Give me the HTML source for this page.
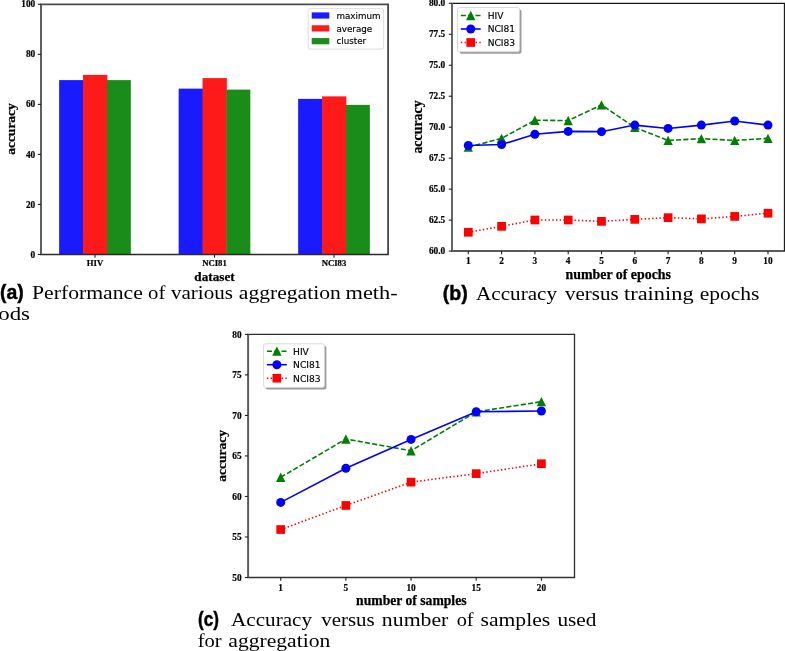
<!DOCTYPE html>
<html><head><meta charset="utf-8"><title>Figure</title>
<style>
html,body{margin:0;padding:0;background:#fff;}
body{width:785px;height:651px;overflow:hidden;}
svg{display:block;}
.tk{font-family:"Liberation Serif", serif;font-weight:bold;font-size:9.3px;fill:#000;stroke:#000;stroke-width:0.2px;}
.lab{font-family:"Liberation Serif", serif;font-weight:bold;font-size:13.5px;fill:#000;stroke:#000;stroke-width:0.25px;}
.lg{font-family:"DejaVu Sans", "Liberation Sans", sans-serif;font-size:9.1px;fill:#000;stroke:#000;stroke-width:0.15px;}
.cp{font-family:"Liberation Serif", serif;font-size:18.0px;fill:#000;}
.cb{font-family:"Liberation Sans", sans-serif;font-weight:bold;font-size:19.5px;fill:#000;stroke:#000;stroke-width:0.45px;}
</style></head>
<body>
<svg width="785" height="651" viewBox="0 0 785 651">
<rect width="785" height="651" fill="#fff"/>
<rect x="59.15" y="80.11" width="24.3" height="174.39" fill="#1a1aff"/>
<rect x="83.05" y="74.86" width="24.3" height="179.64" fill="#ff1a1a"/>
<rect x="106.95" y="80.11" width="23.9" height="174.39" fill="#1a8c1a"/>
<rect x="178.65" y="88.62" width="24.3" height="165.88" fill="#1a1aff"/>
<rect x="202.55" y="78.11" width="24.3" height="176.39" fill="#ff1a1a"/>
<rect x="226.45" y="89.62" width="23.9" height="164.88" fill="#1a8c1a"/>
<rect x="298.15" y="98.88" width="24.3" height="155.62" fill="#1a1aff"/>
<rect x="322.05" y="96.37" width="24.3" height="158.13" fill="#ff1a1a"/>
<rect x="345.95" y="104.88" width="23.9" height="149.62" fill="#1a8c1a"/>
<rect x="308.2" y="8.4" width="75.4" height="40.7" rx="2" fill="#fff" stroke="#dadada" stroke-width="0.9"/>
<rect x="311.7" y="12.4" width="17.6" height="6.2" fill="#1a1aff"/>
<text x="336.4" y="18.7" class="lg" style="font-size:8.75px">maximum</text>
<rect x="311.7" y="25.25" width="17.6" height="6.2" fill="#ff1a1a"/>
<text x="336.4" y="31.55" class="lg" style="font-size:8.75px">average</text>
<rect x="311.7" y="38.1" width="17.6" height="6.2" fill="#1a8c1a"/>
<text x="336.4" y="44.4" class="lg" style="font-size:8.75px">cluster</text>
<line x1="40.2" y1="4.3" x2="388.8" y2="4.3" stroke="#4d4d4d" stroke-width="1.7"/>
<line x1="40.2" y1="254.5" x2="388.8" y2="254.5" stroke="#2a2a2a" stroke-width="1.3"/>
<line x1="41" y1="4.3" x2="41" y2="254.5" stroke="#5e5e5e" stroke-width="2.0"/>
<line x1="388.1" y1="4.3" x2="388.1" y2="254.5" stroke="#3a3a3a" stroke-width="1.7"/>
<line x1="37.8" y1="254.5" x2="41" y2="254.5" stroke="#222" stroke-width="1.1"/>
<text x="35.2" y="257.6" text-anchor="end" class="tk">0</text>
<line x1="37.8" y1="204.46" x2="41" y2="204.46" stroke="#222" stroke-width="1.1"/>
<text x="35.2" y="207.56" text-anchor="end" class="tk">20</text>
<line x1="37.8" y1="154.42" x2="41" y2="154.42" stroke="#222" stroke-width="1.1"/>
<text x="35.2" y="157.52" text-anchor="end" class="tk">40</text>
<line x1="37.8" y1="104.38" x2="41" y2="104.38" stroke="#222" stroke-width="1.1"/>
<text x="35.2" y="107.48" text-anchor="end" class="tk">60</text>
<line x1="37.8" y1="54.34" x2="41" y2="54.34" stroke="#222" stroke-width="1.1"/>
<text x="35.2" y="57.44" text-anchor="end" class="tk">80</text>
<line x1="37.8" y1="4.3" x2="41" y2="4.3" stroke="#222" stroke-width="1.1"/>
<text x="35.2" y="7.4" text-anchor="end" class="tk">100</text>
<line x1="95" y1="254.5" x2="95" y2="257.7" stroke="#222" stroke-width="1.1"/>
<text x="95" y="266.3" text-anchor="middle" class="tk" style="font-size:8.7px">HIV</text>
<line x1="214.5" y1="254.5" x2="214.5" y2="257.7" stroke="#222" stroke-width="1.1"/>
<text x="214.5" y="266.3" text-anchor="middle" class="tk" style="font-size:8.7px">NCI81</text>
<line x1="334" y1="254.5" x2="334" y2="257.7" stroke="#222" stroke-width="1.1"/>
<text x="334" y="266.3" text-anchor="middle" class="tk" style="font-size:8.7px">NCI83</text>
<text transform="translate(15.3,129) rotate(-90)" text-anchor="middle" class="lab">accuracy</text>
<text x="214.5" y="280.5" text-anchor="middle" class="lab" style="font-size:13.2px">dataset</text>
<path d="M468.3 147.15L501.6 138.35L534.9 120.26L568.2 120.51L601.5 104.9L634.8 127.45L668.1 140.46L701.4 138.6L734.7 140.46L768 138.35" fill="none" stroke="#008000" stroke-width="1.6" stroke-dasharray="5.1 2.2"/>
<path d="M468.3 142.5L472.95 151.8L463.65 151.8Z" fill="#008000"/>
<path d="M501.6 133.7L506.25 143L496.95 143Z" fill="#008000"/>
<path d="M534.9 115.61L539.55 124.91L530.25 124.91Z" fill="#008000"/>
<path d="M568.2 115.86L572.85 125.16L563.55 125.16Z" fill="#008000"/>
<path d="M601.5 100.25L606.15 109.55L596.85 109.55Z" fill="#008000"/>
<path d="M634.8 122.8L639.45 132.1L630.15 132.1Z" fill="#008000"/>
<path d="M668.1 135.81L672.75 145.11L663.45 145.11Z" fill="#008000"/>
<path d="M701.4 133.95L706.05 143.25L696.75 143.25Z" fill="#008000"/>
<path d="M734.7 135.81L739.35 145.11L730.05 145.11Z" fill="#008000"/>
<path d="M768 133.7L772.65 143L763.35 143Z" fill="#008000"/>
<path d="M468.3 145.54L501.6 144.55L534.9 134.26L568.2 131.41L601.5 131.66L634.8 125.09L668.1 128.44L701.4 125.09L734.7 121.01L768 125.09" fill="none" stroke="#0000ff" stroke-width="1.6" />
<circle cx="468.3" cy="145.54" r="4.5" fill="#0000ff"/>
<circle cx="501.6" cy="144.55" r="4.5" fill="#0000ff"/>
<circle cx="534.9" cy="134.26" r="4.5" fill="#0000ff"/>
<circle cx="568.2" cy="131.41" r="4.5" fill="#0000ff"/>
<circle cx="601.5" cy="131.66" r="4.5" fill="#0000ff"/>
<circle cx="634.8" cy="125.09" r="4.5" fill="#0000ff"/>
<circle cx="668.1" cy="128.44" r="4.5" fill="#0000ff"/>
<circle cx="701.4" cy="125.09" r="4.5" fill="#0000ff"/>
<circle cx="734.7" cy="121.01" r="4.5" fill="#0000ff"/>
<circle cx="768" cy="125.09" r="4.5" fill="#0000ff"/>
<path d="M468.3 232.27L501.6 226.32L534.9 220L568.2 220L601.5 221.36L634.8 219.38L668.1 217.65L701.4 218.89L734.7 216.41L768 213.19" fill="none" stroke="#ff0000" stroke-width="1.6" stroke-dasharray="1.4 2.3"/>
<rect x="463.95" y="227.92" width="8.7" height="8.7" fill="#ff0000"/>
<rect x="497.25" y="221.97" width="8.7" height="8.7" fill="#ff0000"/>
<rect x="530.55" y="215.65" width="8.7" height="8.7" fill="#ff0000"/>
<rect x="563.85" y="215.65" width="8.7" height="8.7" fill="#ff0000"/>
<rect x="597.15" y="217.01" width="8.7" height="8.7" fill="#ff0000"/>
<rect x="630.45" y="215.03" width="8.7" height="8.7" fill="#ff0000"/>
<rect x="663.75" y="213.3" width="8.7" height="8.7" fill="#ff0000"/>
<rect x="697.05" y="214.54" width="8.7" height="8.7" fill="#ff0000"/>
<rect x="730.35" y="212.06" width="8.7" height="8.7" fill="#ff0000"/>
<rect x="763.65" y="208.84" width="8.7" height="8.7" fill="#ff0000"/>
<rect x="459.5" y="9.5" width="62" height="44.2" rx="2" fill="#9c9c9c"/>
<rect x="457.5" y="7.5" width="62" height="44.2" rx="2" fill="#fff" stroke="#d6d6d6" stroke-width="0.9"/>
<line x1="460.8" y1="15.5" x2="480.7" y2="15.5" stroke="#008000" stroke-width="1.6" stroke-dasharray="5.1 2.2"/>
<path d="M470.75 10.85L475.4 20.15L466.1 20.15Z" fill="#008000"/>
<text x="487.7" y="18.8" class="lg">HIV</text>
<line x1="460.8" y1="29" x2="480.7" y2="29" stroke="#0000ff" stroke-width="1.6" />
<circle cx="470.75" cy="29" r="4.5" fill="#0000ff"/>
<text x="487.7" y="32.3" class="lg">NCI81</text>
<line x1="460.8" y1="42.5" x2="480.7" y2="42.5" stroke="#ff0000" stroke-width="1.6" stroke-dasharray="1.4 2.3"/>
<rect x="466.4" y="38.15" width="8.7" height="8.7" fill="#ff0000"/>
<text x="487.7" y="45.8" class="lg">NCI83</text>
<line x1="451.2" y1="3.3" x2="785.2" y2="3.3" stroke="#151515" stroke-width="1.3"/>
<line x1="451.2" y1="251.1" x2="785.2" y2="251.1" stroke="#5a5a5a" stroke-width="2.0"/>
<line x1="452" y1="3.3" x2="452" y2="251.1" stroke="#666" stroke-width="2.0"/>
<line x1="784.5" y1="3.3" x2="784.5" y2="251.1" stroke="#1e1e1e" stroke-width="1.3"/>
<line x1="448.8" y1="251.1" x2="452" y2="251.1" stroke="#222" stroke-width="1.1"/>
<text x="445.2" y="254.2" text-anchor="end" class="tk">60.0</text>
<line x1="448.8" y1="220.12" x2="452" y2="220.12" stroke="#222" stroke-width="1.1"/>
<text x="445.2" y="223.22" text-anchor="end" class="tk">62.5</text>
<line x1="448.8" y1="189.15" x2="452" y2="189.15" stroke="#222" stroke-width="1.1"/>
<text x="445.2" y="192.25" text-anchor="end" class="tk">65.0</text>
<line x1="448.8" y1="158.18" x2="452" y2="158.18" stroke="#222" stroke-width="1.1"/>
<text x="445.2" y="161.28" text-anchor="end" class="tk">67.5</text>
<line x1="448.8" y1="127.2" x2="452" y2="127.2" stroke="#222" stroke-width="1.1"/>
<text x="445.2" y="130.3" text-anchor="end" class="tk">70.0</text>
<line x1="448.8" y1="96.22" x2="452" y2="96.22" stroke="#222" stroke-width="1.1"/>
<text x="445.2" y="99.32" text-anchor="end" class="tk">72.5</text>
<line x1="448.8" y1="65.25" x2="452" y2="65.25" stroke="#222" stroke-width="1.1"/>
<text x="445.2" y="68.35" text-anchor="end" class="tk">75.0</text>
<line x1="448.8" y1="34.28" x2="452" y2="34.28" stroke="#222" stroke-width="1.1"/>
<text x="445.2" y="37.38" text-anchor="end" class="tk">77.5</text>
<line x1="448.8" y1="3.3" x2="452" y2="3.3" stroke="#222" stroke-width="1.1"/>
<text x="445.2" y="6.4" text-anchor="end" class="tk">80.0</text>
<line x1="468.3" y1="251.1" x2="468.3" y2="254.3" stroke="#222" stroke-width="1.1"/>
<text x="468.3" y="263.9" text-anchor="middle" class="tk">1</text>
<line x1="501.6" y1="251.1" x2="501.6" y2="254.3" stroke="#222" stroke-width="1.1"/>
<text x="501.6" y="263.9" text-anchor="middle" class="tk">2</text>
<line x1="534.9" y1="251.1" x2="534.9" y2="254.3" stroke="#222" stroke-width="1.1"/>
<text x="534.9" y="263.9" text-anchor="middle" class="tk">3</text>
<line x1="568.2" y1="251.1" x2="568.2" y2="254.3" stroke="#222" stroke-width="1.1"/>
<text x="568.2" y="263.9" text-anchor="middle" class="tk">4</text>
<line x1="601.5" y1="251.1" x2="601.5" y2="254.3" stroke="#222" stroke-width="1.1"/>
<text x="601.5" y="263.9" text-anchor="middle" class="tk">5</text>
<line x1="634.8" y1="251.1" x2="634.8" y2="254.3" stroke="#222" stroke-width="1.1"/>
<text x="634.8" y="263.9" text-anchor="middle" class="tk">6</text>
<line x1="668.1" y1="251.1" x2="668.1" y2="254.3" stroke="#222" stroke-width="1.1"/>
<text x="668.1" y="263.9" text-anchor="middle" class="tk">7</text>
<line x1="701.4" y1="251.1" x2="701.4" y2="254.3" stroke="#222" stroke-width="1.1"/>
<text x="701.4" y="263.9" text-anchor="middle" class="tk">8</text>
<line x1="734.7" y1="251.1" x2="734.7" y2="254.3" stroke="#222" stroke-width="1.1"/>
<text x="734.7" y="263.9" text-anchor="middle" class="tk">9</text>
<line x1="768" y1="251.1" x2="768" y2="254.3" stroke="#222" stroke-width="1.1"/>
<text x="768" y="263.9" text-anchor="middle" class="tk">10</text>
<text transform="translate(422.2,127) rotate(-90)" text-anchor="middle" class="lab" style="font-size:13.9px">accuracy</text>
<text x="618.25" y="278.5" text-anchor="middle" class="lab" style="font-size:13.9px">number of epochs</text>
<path d="M280.7 477.26L345.88 439.01L411.05 450.76L476.22 411.79L541.4 401.66" fill="none" stroke="#008000" stroke-width="1.6" stroke-dasharray="5.1 2.2"/>
<path d="M280.7 472.61L285.35 481.91L276.05 481.91Z" fill="#008000"/>
<path d="M345.88 434.36L350.52 443.66L341.23 443.66Z" fill="#008000"/>
<path d="M411.05 446.11L415.7 455.41L406.4 455.41Z" fill="#008000"/>
<path d="M476.22 407.14L480.87 416.44L471.57 416.44Z" fill="#008000"/>
<path d="M541.4 397.01L546.05 406.31L536.75 406.31Z" fill="#008000"/>
<path d="M280.7 502.38L345.88 468.27L411.05 439.42L476.22 411.79L541.4 410.98" fill="none" stroke="#0000ff" stroke-width="1.6" />
<circle cx="280.7" cy="502.38" r="4.5" fill="#0000ff"/>
<circle cx="345.88" cy="468.27" r="4.5" fill="#0000ff"/>
<circle cx="411.05" cy="439.42" r="4.5" fill="#0000ff"/>
<circle cx="476.22" cy="411.79" r="4.5" fill="#0000ff"/>
<circle cx="541.4" cy="410.98" r="4.5" fill="#0000ff"/>
<path d="M280.7 529.53L345.88 505.46L411.05 482.12L476.22 473.62L541.4 463.73" fill="none" stroke="#ff0000" stroke-width="1.6" stroke-dasharray="1.4 2.3"/>
<rect x="276.35" y="525.18" width="8.7" height="8.7" fill="#ff0000"/>
<rect x="341.52" y="501.11" width="8.7" height="8.7" fill="#ff0000"/>
<rect x="406.7" y="477.77" width="8.7" height="8.7" fill="#ff0000"/>
<rect x="471.87" y="469.27" width="8.7" height="8.7" fill="#ff0000"/>
<rect x="537.05" y="459.38" width="8.7" height="8.7" fill="#ff0000"/>
<rect x="265.6" y="345.8" width="60.8" height="43.6" rx="2" fill="#9c9c9c"/>
<rect x="263.6" y="343.8" width="60.8" height="43.6" rx="2" fill="#fff" stroke="#d6d6d6" stroke-width="0.9"/>
<line x1="266.9" y1="351.2" x2="286.8" y2="351.2" stroke="#008000" stroke-width="1.6" stroke-dasharray="5.1 2.2"/>
<path d="M276.85 346.55L281.5 355.85L272.2 355.85Z" fill="#008000"/>
<text x="293.1" y="354.5" class="lg">HIV</text>
<line x1="266.9" y1="364.7" x2="286.8" y2="364.7" stroke="#0000ff" stroke-width="1.6" />
<circle cx="276.85" cy="364.7" r="4.5" fill="#0000ff"/>
<text x="293.1" y="368" class="lg">NCI81</text>
<line x1="266.9" y1="378.2" x2="286.8" y2="378.2" stroke="#ff0000" stroke-width="1.6" stroke-dasharray="1.4 2.3"/>
<rect x="272.5" y="373.85" width="8.7" height="8.7" fill="#ff0000"/>
<text x="293.1" y="381.5" class="lg">NCI83</text>
<line x1="247.3" y1="334.4" x2="575.2" y2="334.4" stroke="#2a2a2a" stroke-width="1.3"/>
<line x1="247.3" y1="577.5" x2="575.2" y2="577.5" stroke="#333" stroke-width="1.3"/>
<line x1="248.1" y1="334.4" x2="248.1" y2="577.5" stroke="#5c5c5c" stroke-width="2.0"/>
<line x1="574.5" y1="334.4" x2="574.5" y2="577.5" stroke="#2e2e2e" stroke-width="1.3"/>
<line x1="244.9" y1="577.5" x2="248.1" y2="577.5" stroke="#222" stroke-width="1.1"/>
<text x="241.6" y="580.6" text-anchor="end" class="tk">50</text>
<line x1="244.9" y1="536.98" x2="248.1" y2="536.98" stroke="#222" stroke-width="1.1"/>
<text x="241.6" y="540.08" text-anchor="end" class="tk">55</text>
<line x1="244.9" y1="496.47" x2="248.1" y2="496.47" stroke="#222" stroke-width="1.1"/>
<text x="241.6" y="499.57" text-anchor="end" class="tk">60</text>
<line x1="244.9" y1="455.95" x2="248.1" y2="455.95" stroke="#222" stroke-width="1.1"/>
<text x="241.6" y="459.05" text-anchor="end" class="tk">65</text>
<line x1="244.9" y1="415.43" x2="248.1" y2="415.43" stroke="#222" stroke-width="1.1"/>
<text x="241.6" y="418.53" text-anchor="end" class="tk">70</text>
<line x1="244.9" y1="374.92" x2="248.1" y2="374.92" stroke="#222" stroke-width="1.1"/>
<text x="241.6" y="378.02" text-anchor="end" class="tk">75</text>
<line x1="244.9" y1="334.4" x2="248.1" y2="334.4" stroke="#222" stroke-width="1.1"/>
<text x="241.6" y="337.5" text-anchor="end" class="tk">80</text>
<line x1="280.7" y1="577.5" x2="280.7" y2="580.7" stroke="#222" stroke-width="1.1"/>
<text x="280.7" y="590.9" text-anchor="middle" class="tk">1</text>
<line x1="345.88" y1="577.5" x2="345.88" y2="580.7" stroke="#222" stroke-width="1.1"/>
<text x="345.88" y="590.9" text-anchor="middle" class="tk">5</text>
<line x1="411.05" y1="577.5" x2="411.05" y2="580.7" stroke="#222" stroke-width="1.1"/>
<text x="411.05" y="590.9" text-anchor="middle" class="tk">10</text>
<line x1="476.22" y1="577.5" x2="476.22" y2="580.7" stroke="#222" stroke-width="1.1"/>
<text x="476.22" y="590.9" text-anchor="middle" class="tk">15</text>
<line x1="541.4" y1="577.5" x2="541.4" y2="580.7" stroke="#222" stroke-width="1.1"/>
<text x="541.4" y="590.9" text-anchor="middle" class="tk">20</text>
<text transform="translate(226.3,455.95) rotate(-90)" text-anchor="middle" class="lab">accuracy</text>
<text x="411.3" y="604.8" text-anchor="middle" class="lab" style="font-size:13.65px">number of samples</text>
<text x="0.00" y="299.00" class="cb" textLength="23.74" lengthAdjust="spacingAndGlyphs">(a)</text>
<text x="31.99" y="299.00" class="cp" textLength="110.85" lengthAdjust="spacingAndGlyphs">Performance</text>
<text x="148.05" y="299.00" class="cp" textLength="17.25" lengthAdjust="spacingAndGlyphs">of</text>
<text x="171.00" y="299.00" class="cp" textLength="61.97" lengthAdjust="spacingAndGlyphs">various</text>
<text x="238.80" y="299.00" class="cp" textLength="102.06" lengthAdjust="spacingAndGlyphs">aggregation</text>
<text x="345.56" y="299.00" class="cp" textLength="52.18" lengthAdjust="spacingAndGlyphs">meth-</text>
<text x="-1.77" y="319.80" class="cp" textLength="31.76" lengthAdjust="spacingAndGlyphs">ods</text>
<text x="442.80" y="299.70" class="cb" textLength="25.01" lengthAdjust="spacingAndGlyphs">(b)</text>
<text x="476.13" y="299.70" class="cp" textLength="80.82" lengthAdjust="spacingAndGlyphs">Accuracy</text>
<text x="565.00" y="299.70" class="cp" textLength="53.56" lengthAdjust="spacingAndGlyphs">versus</text>
<text x="624.06" y="299.70" class="cp" textLength="69.54" lengthAdjust="spacingAndGlyphs">training</text>
<text x="699.81" y="299.70" class="cp" textLength="59.67" lengthAdjust="spacingAndGlyphs">epochs</text>
<text x="198.02" y="626.10" class="cb" textLength="21.03" lengthAdjust="spacingAndGlyphs">(c)</text>
<text x="231.13" y="626.10" class="cp" textLength="80.82" lengthAdjust="spacingAndGlyphs">Accuracy</text>
<text x="321.20" y="626.10" class="cp" textLength="53.56" lengthAdjust="spacingAndGlyphs">versus</text>
<text x="381.89" y="626.10" class="cp" textLength="66.49" lengthAdjust="spacingAndGlyphs">number</text>
<text x="456.67" y="626.10" class="cp" textLength="16.93" lengthAdjust="spacingAndGlyphs">of</text>
<text x="480.50" y="626.10" class="cp" textLength="69.70" lengthAdjust="spacingAndGlyphs">samples</text>
<text x="557.42" y="626.10" class="cp" textLength="38.96" lengthAdjust="spacingAndGlyphs">used</text>
<text x="197.76" y="647.00" class="cp" textLength="23.94" lengthAdjust="spacingAndGlyphs">for</text>
<text x="228.30" y="647.00" class="cp" textLength="102.06" lengthAdjust="spacingAndGlyphs">aggregation</text>
</svg>
</body></html>
